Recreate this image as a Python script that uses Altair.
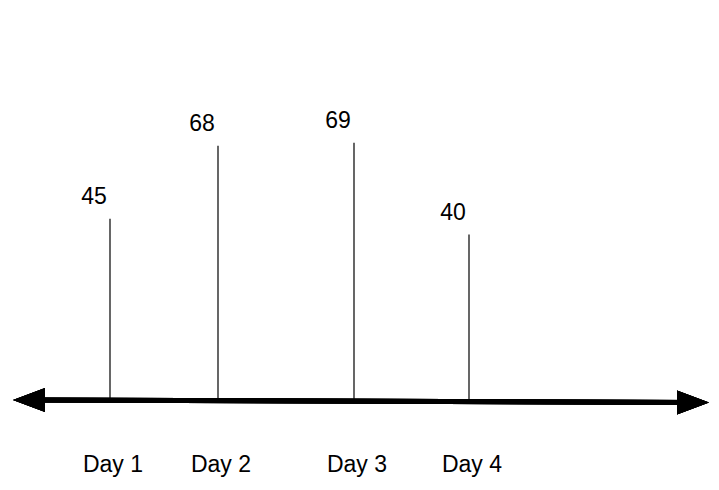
import altair as alt
import pandas as pd

# Daily values shown as stems rising from a double-headed axis line
days = ["Day 1", "Day 2", "Day 3", "Day 4"]
values = [45, 68, 69, 40]

df = pd.DataFrame({"day": days, "value": values})

FONT = "Liberation Sans"

# piecewise position scale: day order -> horizontal placement
x_scale = alt.Scale(domain=[0, 1, 2, 3], range=[110, 218, 354, 469], nice=False, zero=False)
y_scale = alt.Scale(domain=[-12.5, 114], range=[401, 0], zero=False, nice=False)

base = alt.Chart(df).transform_window(order="row_number()").transform_calculate(
    idx="datum.order - 1"
)

X = alt.X("idx:Q", scale=x_scale, axis=None)
Y = alt.Y("value:Q", scale=y_scale, axis=None)

stems = base.mark_rule(color="black", strokeWidth=1.2).encode(
    x=X, y=Y, y2=alt.value(401),
)

value_labels = base.mark_text(
    font=FONT, fontSize=23, color="black", align="center",
    baseline="alphabetic", dx=-16, dy=-15,
).encode(x=X, y=Y, text=alt.Text("value:Q"))

day_labels = base.mark_text(
    font=FONT, fontSize=23, color="black", align="center",
    baseline="alphabetic", dx=3,
).encode(x=X, y=alt.value(472), text=alt.Text("day:N"))

# Thick axis line with arrowheads on both ends
axis_line = base.mark_rule(color="black", strokeWidth=5).encode(
    x=alt.value(30), x2=alt.value(692),
    y=alt.value(400), y2=alt.value(402.5),
)

left_head = base.mark_point(
    shape="M -1 0 L 1 -0.75 L 1 0.75 Z", filled=True, color="black",
    opacity=1, size=1024,
).encode(x=alt.value(29), y=alt.value(400))

right_head = base.mark_point(
    shape="M 1 0 L -1 -0.75 L -1 0.75 Z", filled=True, color="black",
    opacity=1, size=1024,
).encode(x=alt.value(693), y=alt.value(402.5))

chart = alt.layer(
    stems, axis_line, left_head, right_head, value_labels, day_labels
).properties(
    width=719, height=490,
    autosize=alt.AutoSizeParams(type="none"),
    padding=0,
    background="white",
).configure_view(stroke=None)

chart.save("out.html", embed_options={"renderer": "svg", "actions": False})
